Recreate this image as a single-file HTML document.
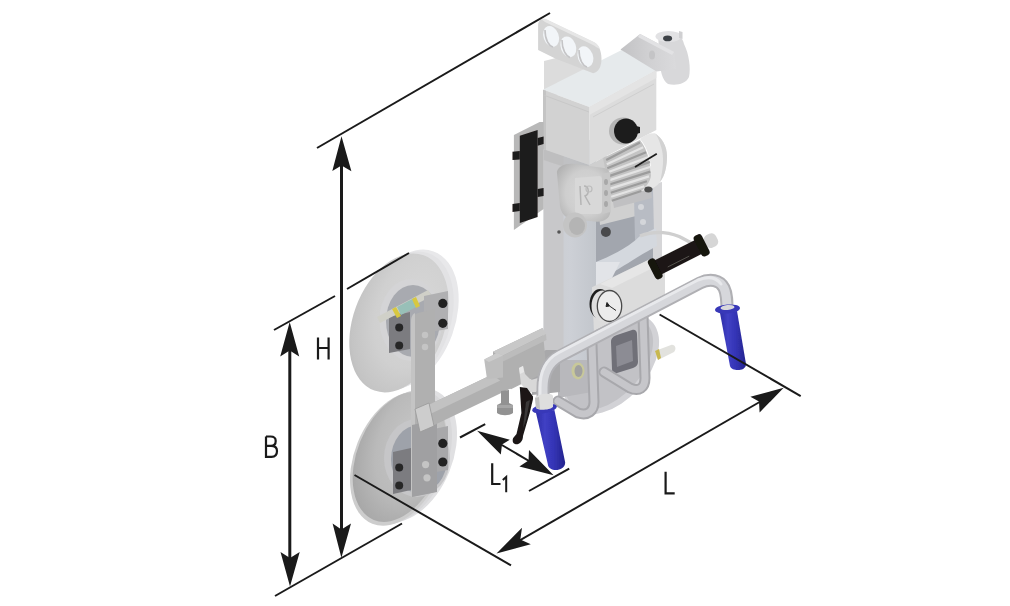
<!DOCTYPE html>
<html><head><meta charset="utf-8">
<style>
html,body{margin:0;padding:0;background:#fff;width:1010px;height:606px;overflow:hidden;font-family:"Liberation Sans",sans-serif}
svg{display:block}
</style></head><body>
<svg width="1010" height="606" viewBox="0 0 1010 606">
<defs>
<radialGradient id="cupface" cx="0.62" cy="0.38" r="0.75">
 <stop offset="0" stop-color="#d8d8d8"/><stop offset="0.55" stop-color="#d0d0d0"/><stop offset="0.85" stop-color="#c4c4c4"/><stop offset="1" stop-color="#b6b6b6"/>
</radialGradient>
<radialGradient id="cupface2" cx="0.62" cy="0.35" r="0.8">
 <stop offset="0" stop-color="#c8c8c8"/><stop offset="0.55" stop-color="#bababa"/><stop offset="0.85" stop-color="#a8a8a8"/><stop offset="1" stop-color="#9c9c9c"/>
</radialGradient>
<linearGradient id="colg" x1="0" y1="0" x2="1" y2="0">
 <stop offset="0" stop-color="#c9ccd0"/><stop offset="0.5" stop-color="#cdd0d6"/><stop offset="1" stop-color="#c2c6cc"/>
</linearGradient>
<radialGradient id="gbx" cx="0.55" cy="0.5" r="0.65">
 <stop offset="0" stop-color="#d8d8d8"/><stop offset="0.6" stop-color="#cecece"/><stop offset="1" stop-color="#b2b2b2"/>
</radialGradient>
<linearGradient id="blueg" x1="0" y1="0" x2="1" y2="0">
 <stop offset="0" stop-color="#2e2ea8"/><stop offset="0.3" stop-color="#4040c4"/><stop offset="0.6" stop-color="#3434b6"/><stop offset="1" stop-color="#24248e"/>
</linearGradient>
<filter id="soft" x="-2%" y="-2%" width="104%" height="104%"><feGaussianBlur stdDeviation="0.45"/></filter>
<linearGradient id="plateg" x1="0" y1="0" x2="1" y2="0">
 <stop offset="0" stop-color="#c2c2c4"/><stop offset="0.5" stop-color="#d0d0d2"/><stop offset="1" stop-color="#dadadc"/>
</linearGradient>
</defs>
<rect width="1010" height="606" fill="#fff"/>
<g id="machine" filter="url(#soft)">
<!-- ===== back disc (behind frame) ===== -->
<g transform="translate(611,364) rotate(42)">
 <ellipse rx="37" ry="59" fill="#d2d2d6"/>
 <ellipse cx="-2" cy="1" rx="33" ry="55" fill="#c2c2c6"/>
</g>
<path d="M558,337 L592,330 L592,392 L558,398 Z" fill="#b8b8bc"/>
<path d="M611,342 C611,338 614,336 617,335 L632,330 C635,329 637,331 637,334 L638,362 C638,365 636,367 633,368 L617,373 C614,374 612,372 612,369 Z" fill="#707078"/>
<path d="M616,346 L632,340 L633,361 L617,367 Z" fill="#8c8c94"/>
<ellipse cx="578" cy="371" rx="6.5" ry="8.5" fill="#c8c89a"/>
<ellipse cx="578.5" cy="371" rx="4" ry="6" fill="#a0a0a0"/>
<path d="M655,351 L671,345 C675,344 677,349 674,352 L658,360 Z" fill="#e2e2de"/>
<path d="M655,351 L659,349 L661,358 L658,360 Z" fill="#c8b850"/>
<!-- back plate behind column (bluish) -->
<path d="M590,196 L654,184 L654,300 L590,335 Z" fill="#a2a6ae"/>
<path d="M653,184 L662,182 L662,262 L653,266 Z" fill="#d6d6d8"/>
<path d="M598,203 L652,190 L652,212 L600,225 Z" fill="#d0d0d0"/>
<path d="M634,197 L653,190 L654,234 L635,240 Z" fill="#b8bcc4"/>
<circle cx="641" cy="207" r="3" fill="#d4d6da"/><circle cx="643" cy="222" r="3" fill="#d4d6da"/>
<path d="M596,262 C610,256 625,250 640,236 L656,228 L657,246 C645,252 630,262 620,268 L598,282 Z" fill="#d4d8de"/>
<path d="M596,262 L620,262 L606,290 L596,292 Z" fill="#e2e4e8"/>
<!-- column -->
<path d="M543.6,140 L596,140 L596,360 L543.6,360 Z" fill="url(#colg)"/>
<path d="M543.6,140 L563.5,140 L563.5,360 L543.6,360 Z" fill="#c8c8ca"/>
<path d="M543.6,149 L589.3,165 L589.3,175 L543.6,160 Z" fill="#b8b8b8" opacity="0.6"/>
<!-- right attachment on top -->
<path d="M658,36 C670,32 682,33 684,44 C689,54 691,68 689,77 C686,84 676,86 668,84 C662,80 660,70 660,60 Z" fill="#d8d8da"/>
<ellipse cx="668.5" cy="36.5" rx="13" ry="5.5" fill="#e2e2e4"/>
<ellipse cx="667.6" cy="38.4" rx="4.5" ry="2.8" fill="#3e4246"/>
<path d="M679,31 L682.5,32 L682.5,39 L679,38 Z" fill="#d0d0d2"/>
<!-- back box -->
<path d="M544,61 L560,57 L589,64 L589,95 L544,95 Z" fill="#dcdcdc"/>
<!-- main box -->
<path d="M543,89.7 L621.7,50 L656.3,70 L589.3,107 Z" fill="#e6eaec"/>
<path d="M543,89.7 L589.3,107 L589.3,165 L543,149 Z" fill="#d2d2d2"/>
<path d="M589.3,107 L656.3,70 L656.3,130 L589.3,165 Z" fill="#dcdcdc"/>
<path d="M589.3,107 L656.3,70 L656.3,78 L589.3,115 Z" fill="#e4e4e4"/>
<path d="M593,117 L654,84" stroke="#cfcfcf" stroke-width="1"/>
<path d="M543,89.7 L546,90.8 L546,150 L543,149 Z" fill="#c4c4c4"/>
<path d="M543.5,95 L589,112" stroke="#c8c8c8" stroke-width="1"/>
<path d="M620.5,49.5 L640.1,34.1 L674.3,52 L676,69 L656.5,71.5 Z" fill="url(#plateg)"/>
<path d="M640.1,34.1 L674.3,52 L672,55 L638,37 Z" fill="#e2e2e4"/>
<ellipse cx="652" cy="55" rx="3" ry="4.5" fill="#c4c4c6"/>
<!-- knob -->
<ellipse cx="623" cy="131" rx="14" ry="13.5" fill="#b4b4b4"/>
<ellipse cx="626" cy="131" rx="12" ry="12.5" fill="#1c1c1c"/>
<path d="M636,126 L640,127 L640,133 L636,134 Z" fill="#1c1c1c"/>
<!-- lifting eye -->
<path d="M538.1,25 C538.5,20 541,18.5 545,19 L593.2,42.1 C598,44 601.5,50 601.5,58.8 C601.5,66 599,72 593.2,73.3 L555.8,58.8 L538.1,50 Z" fill="#d4d4d4"/>
<path d="M541,19 C543,18 545,18.5 547,19.5 L594,42 C597,43.5 599,46 600,49 L596,47 C594,45 592,44.5 590,43.5 L545,22 Z" fill="#e6e6e6"/>
<g fill="#f2f5f8">
<ellipse cx="551.1" cy="36.4" rx="7.6" ry="10.7" transform="rotate(-20 551.1 36.4)"/>
<ellipse cx="568.3" cy="46.8" rx="7.6" ry="10.7" transform="rotate(-20 568.3 46.8)"/>
<ellipse cx="585.4" cy="56.6" rx="7.6" ry="10.7" transform="rotate(-20 585.4 56.6)"/>
</g>
<g fill="none" stroke="#c4c4c6" stroke-width="1.6">
<path d="M545,30 C545,40 549,46 553,47"/>
<path d="M562,40 C562,50 566,56 570,57.5"/>
<path d="M579,50 C579,60 583,66 587,67"/>
</g>
<!-- black panel plate -->
<path d="M513.9,134.9 L539.6,122 L543.6,122 L543.6,209 L513.9,229.9 Z" fill="#b8b8b8"/>
<path d="M519.8,135.8 L537.6,129.9 L537.6,217 L519.8,223 Z" fill="#1e1a1a"/>
<path d="M512.5,151.7 L519.8,151 L519.8,159.6 L512.5,160 Z M512.5,204 L519.8,203 L519.8,211 L512.5,212 Z M537.6,138 L543.6,136.5 L543.6,144 L537.6,145.7 Z M537.6,189 L543.6,188 L543.6,196 L537.6,197 Z" fill="#1e1a1a"/>
<path d="M588,166 L606,156 L614,160 L612,201 L596,205 Z" fill="#cfcfcf"/>
<path d="M612,196 L650,184 L652,198 L614,208 Z" fill="#c0c0c2"/>
<!-- motor -->
<path d="M603,158 L640,140 C648,150 651,165 651,178 C650,184 646,189 641.3,191 L611.8,201 Z" fill="#c4c4c4"/>
<g>
<line x1="606.2" y1="160.1" x2="640.0" y2="142.5" stroke="#9c9c9c" stroke-width="2.2"/>
<line x1="606.8" y1="164.2" x2="643.2" y2="147.3" stroke="#e4e4e4" stroke-width="2.2"/>
<line x1="607.3" y1="168.2" x2="646.1" y2="152.2" stroke="#9c9c9c" stroke-width="2.2"/>
<line x1="607.9" y1="172.3" x2="648.5" y2="157.1" stroke="#e4e4e4" stroke-width="2.2"/>
<line x1="608.4" y1="176.4" x2="650.0" y2="161.9" stroke="#9c9c9c" stroke-width="2.2"/>
<line x1="609.0" y1="180.4" x2="650.6" y2="166.8" stroke="#e4e4e4" stroke-width="2.2"/>
<line x1="609.6" y1="184.5" x2="650.3" y2="171.6" stroke="#9c9c9c" stroke-width="2.2"/>
<line x1="610.1" y1="188.6" x2="649.0" y2="176.4" stroke="#e4e4e4" stroke-width="2.2"/>
<line x1="610.7" y1="192.7" x2="646.9" y2="181.3" stroke="#9c9c9c" stroke-width="2.2"/>
<line x1="611.2" y1="196.7" x2="644.3" y2="186.2" stroke="#e4e4e4" stroke-width="2.2"/>
<line x1="611.8" y1="200.8" x2="641.3" y2="191.0" stroke="#9c9c9c" stroke-width="2.2"/>
</g>
<path d="M640,139 C645,135 650,133 655.3,133.4 C662,138 667,146 667,156 C667,166 665,176 660,182 C657,186 654,188 648,190 L641.3,191 C646,187 650,182 651,176 C652,162 648,148 640,139 Z" fill="#e6e6e6"/>
<path d="M655.3,133.4 C662,138 667,146 667,156 C667,166 665,176 660,182 C663,170 664,160 662,150 C660,142 658,137 655.3,133.4 Z" fill="#d2d2d2"/>
<line x1="635" y1="167" x2="656.8" y2="153.8" stroke="#1e1e1e" stroke-width="1.8"/>
<ellipse cx="648.3" cy="189.6" rx="4" ry="3" fill="#505050"/>
<!-- gearbox -->
<path d="M556.9,172 C558,166 566,163 574,164 L604,168 C608,169 610.3,172 610.3,176 L610.3,212 C610,218 604,222 597,221.8 L570,219 C564,217 561,212 560,206 Z" fill="url(#gbx)"/>
<path d="M575,178 L599,176 C601,176 602,178 602,180 L602,210 C602,213 600,214 598,214 L578,214 C576,214 575,212 575,210 Z" fill="#d8d8d8"/>
<path d="M602,174 L610,172 L610.3,212 L602,214 Z" fill="#c8c8c8"/>
<g fill="#a8a8a8"><ellipse cx="606" cy="182" rx="2" ry="3"/><ellipse cx="606" cy="193" rx="2" ry="3"/><ellipse cx="606" cy="204" rx="2" ry="3"/></g>
<path d="M580,186 L581,205 M584,186 C589,186 590,194 585,196 L590,205" stroke="#b4b4b4" stroke-width="1.5" fill="none"/>
<ellipse cx="589" cy="189" rx="3" ry="3" fill="none" stroke="#bcbcbc" stroke-width="1.2"/>
<ellipse cx="575" cy="225" rx="12" ry="12.5" fill="#c4c4c4"/>
<ellipse cx="577" cy="226" rx="8" ry="9" fill="#b4b4b4"/>
<circle cx="559" cy="232" r="1.8" fill="#555"/>
<circle cx="605.9" cy="232" r="5" fill="#4a4a4c"/>
<!-- hose -->
<path d="M640,236 C655,230 672,232 684,239 C692,243 698,247 703,252" stroke="#cfcfcf" stroke-width="3.5" fill="none"/>
<!-- gauge plate -->
<path d="M591.9,287.3 L649.3,259.6 L665,262 L665,295.2 L593.9,330.9 Z" fill="#dcdcdc"/>
<path d="M600,284 L649.3,259.6 L665,262 L612,288 Z" fill="#e6e6e6"/>
<ellipse cx="600" cy="304" rx="10.5" ry="15" fill="#1e1e1e"/>
<ellipse cx="602.5" cy="306" rx="11" ry="15.5" fill="#dedede"/>
<ellipse cx="609.5" cy="306" rx="12.2" ry="15.5" fill="#ececec" stroke="#4a4a4a" stroke-width="1.3"/>
<path d="M609.5,306 L616,310.5 M609.5,306 L607,302.5 L606,306.5 Z" stroke="#222" stroke-width="1" fill="#222"/>
<!-- black handle -->
<g transform="translate(658.8,267) rotate(-26.8)">
 <rect x="52" y="-7" width="13" height="14" rx="5" fill="#d6d6d6"/>
 <rect x="-2" y="-7.8" width="48" height="15.6" rx="2" fill="#1d1917"/>
 <rect x="-8" y="-11" width="8" height="22" rx="3.5" fill="#151210"/>
 <rect x="43.5" y="-11.5" width="9" height="23" rx="3.5" fill="#151210"/>
 <line x1="8" y1="4" x2="32" y2="4" stroke="#5a5652" stroke-width="0.8"/>
</g>
<!-- upper cup -->
<g transform="translate(404,321) rotate(20)">
 <ellipse cx="4" cy="-3.5" rx="46" ry="72" fill="#e8e8ea"/>
 <ellipse cx="0" cy="0" rx="46" ry="72" fill="#e2e2e4"/>
 <ellipse cx="-4" cy="3.5" rx="46" ry="72" fill="url(#cupface)"/>
</g>
<ellipse cx="411" cy="320" rx="31.5" ry="41" fill="#d4d4d6"/>
<ellipse cx="413" cy="321" rx="27" ry="36" fill="#a8aab0"/>
<!-- lower cup -->
<g transform="translate(403.5,457) rotate(22)">
 <ellipse cx="4" cy="-3.5" rx="44" ry="70" fill="#e0e0e2"/>
 <ellipse cx="0" cy="0" rx="44" ry="70" fill="#d8d8da"/>
 <ellipse cx="-4" cy="3.5" rx="44" ry="70" fill="#cdcdcd"/>
 <ellipse cx="-4" cy="1.5" rx="42" ry="68" fill="url(#cupface2)"/>
</g>
<ellipse cx="417" cy="458" rx="33" ry="39" fill="#c6c6c8"/>
<ellipse cx="419" cy="459" rx="28" ry="34" fill="#9ea2aa"/>
<!-- left bracket plates -->
<path d="M389,317 L410,312 L410,349 L389,353 Z" fill="#7c7c80"/>
<path d="M393,452 L411,448 L411,490 L393,494 Z" fill="#7c7c80"/>
<g fill="#262628">
<circle cx="399.2" cy="327.5" r="4"/><circle cx="399.2" cy="345.5" r="4"/>
<circle cx="399.2" cy="467.5" r="4"/><circle cx="399.2" cy="485.5" r="4"/>
</g>
<!-- valve on upper cup -->
<path d="M377,317 L428,290 L432,296 L380,323 Z" fill="#d0d0c8"/>
<path d="M397,307 L414,298 L418,306 L401,315 Z" fill="#98c0b8"/>
<path d="M392,309 L396,307 L401,316 L397,318 Z" fill="#d8c840"/>
<path d="M412,299 L416,297 L420,306 L416,308 Z" fill="#d8c840"/>
<!-- right mounting plates with bolts -->
<path d="M424,296 L448,291 L448,329 L424,333 Z" fill="#b0b0b2"/>
<path d="M424,431 L448,426 L448,470 L424,474 Z" fill="#a8a8aa"/>
<g fill="#222224">
<circle cx="442.8" cy="303.4" r="4.6"/><circle cx="442.8" cy="323.3" r="4.6"/>
<circle cx="442.8" cy="443.4" r="4.6"/><circle cx="442.8" cy="462" r="4.6"/>
</g>
<!-- vertical bar -->
<path d="M411,322 C411,316 416,313 422,312 L435,309 L435,492 L411,497 Z" fill="#b0b0b0"/>
<path d="M411,322 C411,316 413,314 415,313 L415,496 L411,497 Z" fill="#c4c4c4"/>
<path d="M412,425 L437,420 L437,492 L412,497 Z" fill="#a0a0a2"/>
<g fill="#c4c4c4"><circle cx="425.6" cy="464.6" r="3.6"/><circle cx="427" cy="477.8" r="3.6"/><circle cx="425" cy="335" r="3.2"/><circle cx="425" cy="347" r="3.2"/></g>
<!-- horizontal beam -->
<path d="M418,410 L510,366 L518,385 L426,429 Z" fill="#b0b0b0"/>
<path d="M420,409 L510,366 L514,374 L424,417 Z" fill="#c2c2c2"/>
<path d="M415,409 L429,403 L434,426 L420,432 Z" fill="#cdcdcd" stroke="#999" stroke-width="0.8"/>
<!-- bracket plate right of block -->
<path d="M530,357 L546,350 L560,350 L560,392 L532,395 Z" fill="#a8a8aa"/>
<!-- block -->
<path d="M493,351.7 L542.6,328 L546.5,371.5 L511,389.3 L493,375 Z" fill="#b0b0b0"/>
<path d="M493,351.7 L542.6,328 L546,334 L500,357 Z" fill="#c8c8c8"/>
<path d="M500,357 L546,334 L546.5,340 L502,362 Z" fill="#bcbcbc"/>
<path d="M484.2,359.6 L497,353 L503,355.6 L503,377.4 L487,379 Z" fill="#bebebe"/>
<path d="M484.2,359.6 L497,353 L503,355.6 L489,362 Z" fill="#cccccc"/>
<!-- foot -->
<path d="M501,391 L509,390 L509,403 L513,405 L513,413 C509,416 501,416 497,413 L497,405 L501,403 Z" fill="#929292"/>
<path d="M497,405 L513,405 L513,408 L497,408 Z" fill="#a6a6a6"/>
<!-- Y joint -->
<path d="M519,368 L523,366 L525,374 L531,380 L538,378 L541,386 L536,392 L528,392 L521,384 Z" fill="#d8d8d8"/>
<path d="M519,368 L523,366 L524,372 L520,374 Z" fill="#e8e8e8"/>
<!-- frame tubes -->
<g fill="none" stroke-linecap="round" stroke-linejoin="round">
 <path d="M592,345 L594,402 C594,411 588,416 578,413 L558,401" stroke="#a8a8ac" stroke-width="11"/>
 <path d="M592,345 L594,402 C594,411 588,416 578,413 L558,401" stroke="#c6c6ca" stroke-width="7"/>
 <path d="M643,316 L645,378 C645,388 639,392 630,388 L604,372" stroke="#a8a8ac" stroke-width="11"/>
 <path d="M643,316 L645,378 C645,388 639,392 630,388 L604,372" stroke="#c6c6ca" stroke-width="7"/>
 <path d="M543,404 L543,388 C543,374 547.7,362.7 560,356 L700,283 C710,278 720,280 724,288 C727,294 727,302 727,311" stroke="#b0b0b4" stroke-width="13"/>
 <path d="M543,404 L543,388 C543,374 547.7,362.7 560,356 L700,283 C710,278 720,280 724,288 C727,294 727,302 727,311" stroke="#d6d7db" stroke-width="9"/>
 <path d="M540,398 L540,388 C540,372 545,360 558,353 L698,280 C708,276 716,277 721,284" stroke="#e8e9ec" stroke-width="3"/>
</g>
<!-- blue handles -->
<path d="M536,413 L554.4,410 L565.2,462.5 C565,468 560,470 556,470 C552,470 548,468 547.8,464 Z" fill="url(#blueg)"/>
<ellipse cx="544.5" cy="408.5" rx="12.5" ry="4.5" transform="rotate(-9 544.5 408.5)" fill="#3838b8"/>
<path d="M535,398 C536,394 552,392 553,396 L553,407 C550,410 538,411 536,408 Z" fill="#dedede"/>
<path d="M535,398 L539,397 L540,409 L536,408 Z" fill="#c0c0c0"/>
<path d="M720,313 L737,311 L746,364 C746,369 741,370 738,370 C734,370 731,369 730,366 Z" fill="url(#blueg)"/>
<ellipse cx="727.5" cy="309" rx="12.5" ry="4.5" transform="rotate(-5 727.5 309)" fill="#3838b8"/>
<ellipse cx="727.5" cy="307.5" rx="7" ry="2.5" transform="rotate(-5 727.5 307.5)" fill="#d8d8dc"/>
<!-- black lever -->
<path d="M519.8,387 L527,388 L533,396.5 L533,399 L529.7,413 L523,436 C523,441 520,444.3 516,444.3 C513,444 512,441 513.2,438 L516.5,434 L521.4,413 Z" fill="#1a1818"/>
<path d="M526,402 L530,400 L526,420 L523,428 Z" fill="#3a3838"/>
</g>
<g id="dims" stroke="#1a1a1a" stroke-width="2" fill="none" stroke-linecap="butt">
  <!-- H extension top -->
  <line x1="317" y1="148" x2="550" y2="13"/>
  <!-- H vertical -->
  <line x1="341.5" y1="160" x2="341.5" y2="530" stroke-width="3"/>
  <!-- B vertical -->
  <line x1="289.8" y1="345" x2="289.8" y2="560" stroke-width="3"/>
  <!-- B top ext -->
  <line x1="274" y1="330" x2="335" y2="296"/>
  <line x1="347" y1="289" x2="409" y2="253"/>
  <!-- bottom ext -->
  <line x1="275" y1="596" x2="402" y2="523.5"/>
  <!-- wheel ext to L -->
  <line x1="354.5" y1="475" x2="511" y2="565.3"/>
  <!-- L right ext -->
  <line x1="659.6" y1="314.5" x2="800.7" y2="396.1"/>
  <!-- L shaft -->
  <line x1="510" y1="546" x2="770" y2="396"/>
  <!-- L1 ext lines -->
  <line x1="460" y1="437.5" x2="485.2" y2="424.1"/>
  <line x1="529" y1="491" x2="569.2" y2="468.7"/>
  <!-- L1 shaft -->
  <line x1="495" y1="441" x2="535" y2="464.5"/>
</g>
<g id="arrows" fill="#1a1a1a">
  <path d="M341.5,136.3 L351.4,171.3 L341.5,165.5 L332.3,171 Z"/>
  <path d="M341.4,557.8 L351,523.6 L341.4,529.5 L332.6,523.6 Z"/>
  <path d="M289.7,322 L299.2,356.4 L289.7,350.5 L280.2,356.4 Z"/>
  <path d="M290,586.6 L299.7,552 L290,558 L280.5,552 Z"/>
  <path d="M477.1,430.8 L509.8,439.7 L502,444.5 L500.8,454.6 Z"/>
  <path d="M553.6,475.3 L529,450.1 L528.5,460.5 L519.4,466.4 Z"/>
  <path d="M496.5,553.5 L522,527.7 L520.3,539.6 L530.8,544.2 Z"/>
  <path d="M783.7,387.7 L750.4,396.7 L759,401.6 L759.6,412.6 Z"/>
</g>
<g id="text" stroke="#1a1a1a" stroke-width="2" fill="none">
  <!-- H -->
  <path d="M318,337.6 V359.4 M328.6,337.6 V359.4 M318,348 H328.6" stroke-width="2.2"/>
  <!-- B -->
  <path d="M266,436.5 V456.8 H271.5 C275.3,456.8 277,454.5 277,451 C277,447.6 274.8,445.8 271,445.8 H266 M271,445.8 C274,445.8 275.7,443.8 275.7,440.9 C275.7,438 273.8,436.5 270.5,436.5 H266" stroke-width="2.2"/>
  <!-- L1 -->
  <path d="M492.2,463.3 V484 H500.5" stroke-width="2.2"/>
  <path d="M502.8,480 L506.2,477 V492.3" stroke-width="2"/>
  <!-- L -->
  <path d="M665.6,471.8 V493.3 H674.7" stroke-width="2.2"/>
</g>
</svg>
</body></html>
